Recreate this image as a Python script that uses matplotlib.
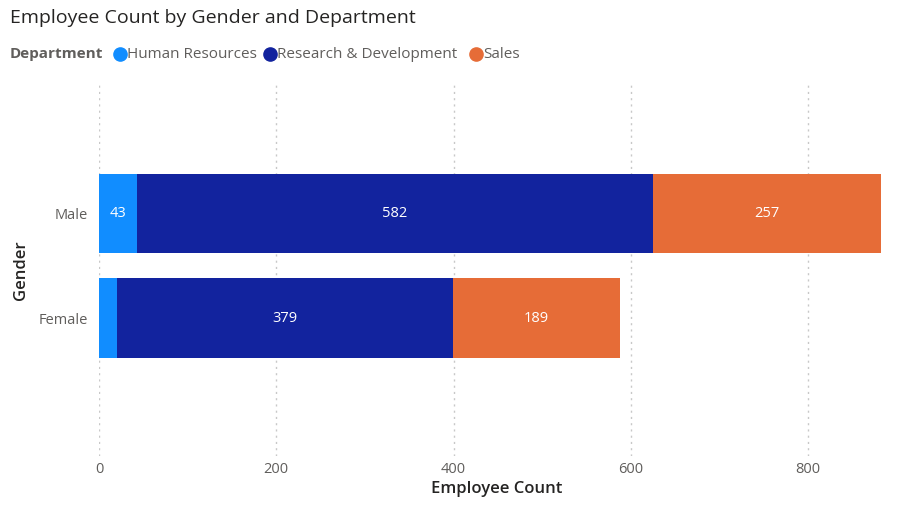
import matplotlib
matplotlib.use("Agg")
import matplotlib.pyplot as plt
from matplotlib.lines import Line2D

genders = ["Female", "Male"]
departments = ["Human Resources", "Research & Development", "Sales"]
hr = [20, 43]
rd = [379, 582]
sales = [189, 257]
colors = ["#118DFF", "#12239E", "#E66C37"]
xticks = [0, 200, 400, 600, 800]

plt.rcParams['font.family'] = ['Open Sans', 'DejaVu Sans']

fig = plt.figure(figsize=(9.12, 5.11), dpi=100)
ax = fig.add_axes([99/912, 1-456/511, (895-99)/912, (456-85)/511])

series = [hr, rd, sales]
left = [0, 0]
ypos = [0, 1]
for vals, col in zip(series, colors):
    ax.barh(ypos, vals, left=left, height=0.76, color=col, zorder=3)
    for y, v, l in zip(ypos, vals, left):
        if v >= 30:
            ax.text(l + v/2, y, str(v), ha='center', va='center', color='white',
                    fontsize=10.5, zorder=4)
    left = [a + b for a, b in zip(left, vals)]

ax.set_xlim(0, 898)
ax.set_ylim(-1.32, 2.23)
ax.set_yticks(ypos)
ax.set_yticklabels(genders)
ax.set_xticks(xticks)
ax.set_xticklabels([str(t) for t in xticks])
ax.tick_params(axis='both', length=0, labelcolor='#605E5C', labelsize=10.5)
ax.tick_params(axis='x', pad=4)
ax.tick_params(axis='y', pad=8)
ax.grid(axis='x', linestyle=(0, (1.5, 3)), color='#C8C8C8', linewidth=1, zorder=0)
for s in ax.spines.values():
    s.set_visible(False)

ax.set_xlabel("Employee Count", fontsize=12, color='#252423', labelpad=3,
              fontweight='semibold')
ax.set_ylabel("Gender", fontsize=12, color='#252423', labelpad=7,
              fontweight='semibold')

fig.text(10/912, 1-18/511, "Employee Count by Gender and Department", fontsize=14,
         color='#252423', va='center', ha='left', fontweight='medium')
fig.text(10/912, 1-54/511, "Department", fontsize=11, fontweight='bold',
         color='#605E5C', va='center', ha='left')
leg_x = [120, 270, 476]
for x, name, col in zip(leg_x, departments, colors):
    fig.add_artist(Line2D([x/912], [1-54/511], marker='o', markersize=9.5,
                          color=col, linestyle='None', transform=fig.transFigure))
    fig.text((x+7)/912, 1-54/511, name, fontsize=11, color='#605E5C',
             va='center', ha='left')

fig.savefig("out.png", dpi=100)
